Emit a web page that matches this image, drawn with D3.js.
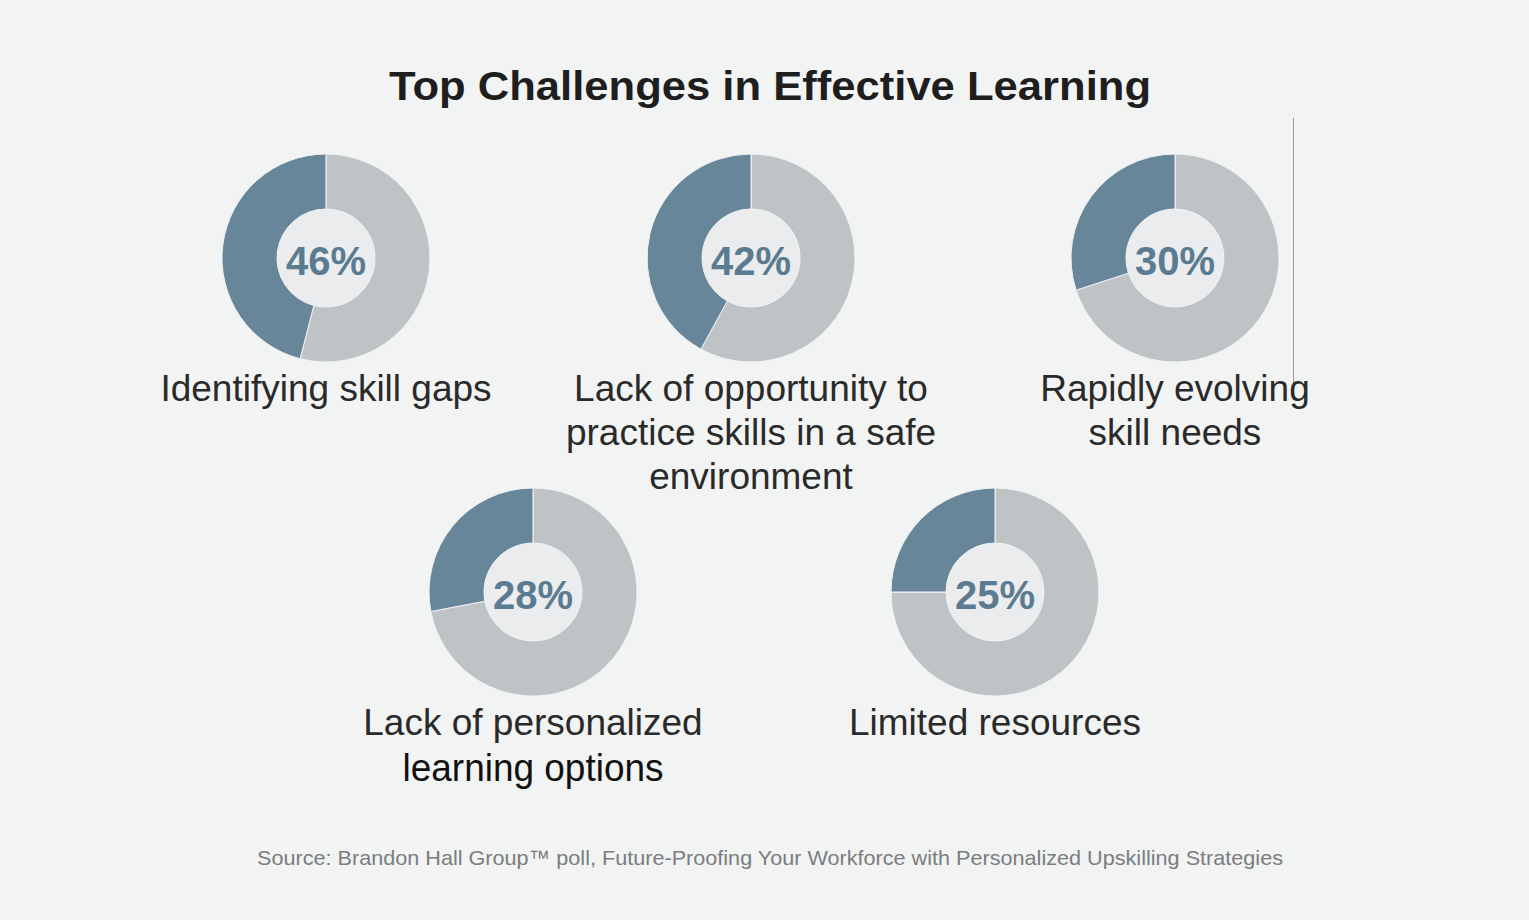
<!DOCTYPE html>
<html><head><meta charset="utf-8">
<script src="https://cdn.jsdelivr.net/npm/d3@7"></script>
<style>html,body{margin:0;padding:0;background:#f2f3f3;}svg{display:block;}</style>
</head><body>
<svg id="c" width="1529" height="920"></svg>
<script>
const title = "Top Challenges in Effective Learning";
const categories = [
  ["Identifying skill gaps"],
  ["Lack of opportunity to", "practice skills in a safe", "environment"],
  ["Rapidly evolving", "skill needs"],
  ["Lack of personalized", "learning options"],
  ["Limited resources"]
];
const values = [46, 42, 30, 28, 25];
const source = "Source: Brandon Hall Group\u2122 poll, Future-Proofing Your Workforce with Personalized Upskilling Strategies";

const W = 1529, H = 920;
const FONT = "'Liberation Sans', Arial, Helvetica, sans-serif";
const svg = d3.select("#c");
svg.append("rect").attr("width", W).attr("height", H).attr("fill", "#f2f3f3");

const centers = [[326, 258], [751, 258], [1175, 258], [533, 592], [995, 592]];
const rOuter = 104, rInner = 49;
const angle = d3.scaleLinear().domain([0, 100]).range([0, 2 * Math.PI]);
const arc = d3.arc().innerRadius(rInner).outerRadius(rOuter);

svg.append("text").attr("x", 770).attr("y", 100).attr("text-anchor", "middle")
  .attr("font-family", FONT).attr("font-weight", "bold")
  .attr("font-size", 40).attr("fill", "#1e1e1e")
  .attr("textLength", 762).attr("lengthAdjust", "spacingAndGlyphs").text(title);

svg.append("line").attr("x1", 1293.5).attr("x2", 1293.5).attr("y1", 118).attr("y2", 400)
  .attr("stroke", "#9a9a9a").attr("stroke-width", 1);

values.forEach((v, i) => {
  const [cx, cy] = centers[i];
  const g = svg.append("g").attr("transform", `translate(${cx},${cy})`);
  g.append("circle").attr("r", rInner).attr("fill", "#eaeced");
  g.append("path").attr("d", arc({startAngle: 0, endAngle: angle(100 - v)}))
    .attr("fill", "#bec3c6").attr("stroke", "#f2f3f3").attr("stroke-width", 1);
  g.append("path").attr("d", arc({startAngle: -angle(v), endAngle: 0}))
    .attr("fill", "#68869a").attr("stroke", "#f2f3f3").attr("stroke-width", 1);
  g.append("text").attr("y", 17).attr("text-anchor", "middle")
    .attr("font-family", FONT).attr("font-weight", "bold")
    .attr("font-size", 40).attr("fill", "#5b7b91").text(v + "%");
  const lines = categories[i];
  lines.forEach((ln, j) => {
    const narrow = (i === 3 && j === 1);
    const t = svg.append("text").attr("x", cx).attr("y", cy + 143 + j * 44 + (narrow ? 2 : 0))
      .attr("text-anchor", "middle")
      .attr("font-family", FONT)
      .attr("font-size", narrow ? 38 : 37)
      .attr("fill", narrow ? "#111" : "#2a2a2a").text(ln);
    if (narrow) t.attr("textLength", 261).attr("lengthAdjust", "spacingAndGlyphs");
  });
});

svg.append("text").attr("x", 770).attr("y", 865).attr("text-anchor", "middle")
  .attr("font-family", FONT)
  .attr("font-size", 21).attr("fill", "#7a7d80")
  .attr("textLength", 1026).attr("lengthAdjust", "spacingAndGlyphs").text(source);
</script>
</body></html>
